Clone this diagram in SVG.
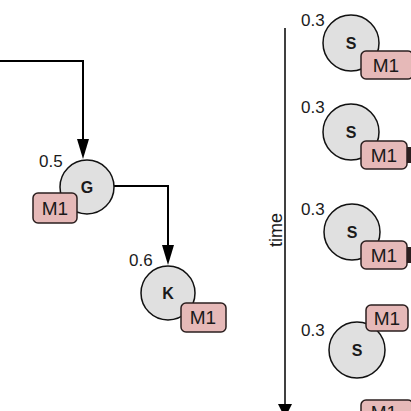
<svg xmlns="http://www.w3.org/2000/svg" width="411" height="411" viewBox="0 0 411 411">
<defs>
<style>
.c{fill:#e0e0e0;stroke:#111;stroke-width:1.5}
.b{fill:#e6b9b8;stroke:#2b1f1f;stroke-width:1.5}
.bt{font-family:"Liberation Sans",Arial,sans-serif;font-size:19px;fill:#1a1a1a;text-anchor:middle}
.lt{font-family:"Liberation Sans",Arial,sans-serif;font-size:17px;fill:#1a1a1a}
.nt{font-family:"Liberation Sans",Arial,sans-serif;font-size:16px;font-weight:bold;fill:#1a1a1a;text-anchor:middle}
.ln{fill:none;stroke:#000;stroke-width:2}
.ah{fill:#000}
</style>
</defs>
<rect width="411" height="411" fill="#fff"/>
<g id="connectors">
<path class="ln" d="M0,61 H83 V140"/>
<path class="ln" d="M114,186 H168 V246"/>
<path class="ah" d="M77,139 L89,139 L83,159 Z"/>
<path class="ah" d="M162,245 L174,245 L168,265 Z"/>
</g>
<g id="time-axis">
<line x1="285" y1="28" x2="285" y2="404" stroke="#000" stroke-width="1.5"/>
<path d="M278,404 L292,404 L285,418 Z" fill="#000"/>
<text class="lt" style="font-size:18px" text-anchor="middle" transform="translate(282,230) rotate(-90)">time</text>
</g>
<g id="node-G">
<circle class="c" cx="87" cy="187" r="27"/>
<text class="nt" x="87" y="193">G</text>
<text class="lt" x="39" y="167">0.5</text>
<rect class="b" x="33" y="193" width="44" height="30" rx="5"/>
<text class="bt" x="55" y="215">M1</text>
</g>
<g id="node-K">
<circle class="c" cx="168" cy="293" r="27"/>
<text class="nt" x="168" y="299">K</text>
<text class="lt" x="129" y="266">0.6</text>
<rect class="b" x="181" y="303" width="45" height="29" rx="5"/>
<text class="bt" x="203" y="324">M1</text>
</g>
<g id="node-S1">
<circle class="c" cx="351" cy="43" r="28"/>
<text class="nt" x="351" y="49">S</text>
<text class="lt" x="301" y="26">0.3</text>
<rect class="b" x="361" y="51" width="52" height="28" rx="5"/>
<text class="bt" x="386" y="72">M1</text>
</g>
<g id="node-S2">
<circle class="c" cx="351" cy="132" r="28"/>
<text class="nt" x="351" y="138">S</text>
<text class="lt" x="301" y="113">0.3</text>
<rect class="b" x="361" y="141" width="46" height="28" rx="5"/>
<text class="bt" x="384" y="162">M1</text>
<rect x="407" y="147" width="6" height="16" fill="#2b1f1f"/>
</g>
<g id="node-S3">
<circle class="c" cx="352" cy="232" r="28"/>
<text class="nt" x="352" y="238">S</text>
<text class="lt" x="301" y="215">0.3</text>
<rect class="b" x="361" y="241" width="46" height="28" rx="5"/>
<text class="bt" x="384" y="262">M1</text>
<rect x="407" y="247" width="6" height="16" fill="#2b1f1f"/>
</g>
<g id="node-S4">
<circle class="c" cx="357" cy="350" r="28"/>
<text class="nt" x="357" y="356">S</text>
<text class="lt" x="301" y="336">0.3</text>
<rect class="b" x="366" y="305" width="42" height="26" rx="5"/>
<text class="bt" x="387" y="325">M1</text>
</g>
<g id="node-S5">
<rect class="b" x="361" y="400" width="52" height="28" rx="5"/>
<text class="bt" x="384" y="419">M1</text>
</g>
</svg>
